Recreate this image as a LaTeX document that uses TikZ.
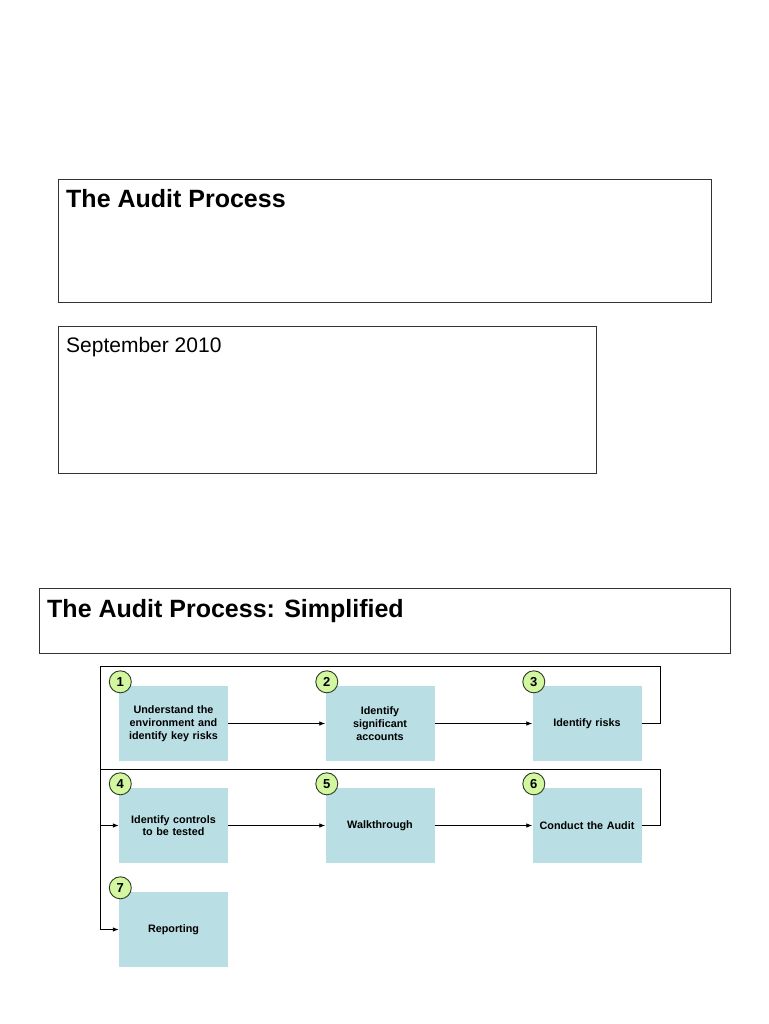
\documentclass[tikz,border=0pt]{standalone}
\usepackage{fontspec}
\setmainfont{Liberation Sans}
\usetikzlibrary{arrows.meta}
\definecolor{boxfill}{HTML}{B9DEE3}
\definecolor{numfill}{HTML}{D2F7A0}
\definecolor{numline}{HTML}{2E3A1E}
\definecolor{frameline}{HTML}{333333}
\begin{document}
\begin{tikzpicture}[x=1pt,y=-1pt,
  frame/.style={draw=frameline,line width=0.9pt},
  titletext/.style={anchor=base west,inner sep=0pt,font=\fontsize{25}{30}\selectfont\bfseries},
  datetext/.style={anchor=base west,inner sep=0pt,font=\fontsize{21}{25}\selectfont},
  stepbox/.style={fill=boxfill,minimum width=109pt,minimum height=75pt,inner sep=0pt,align=center,text width=104pt,font=\fontsize{10.8}{12.7}\selectfont\bfseries},
  num/.style={circle,draw=numline,line width=0.9pt,fill=numfill,minimum size=22pt,inner sep=0pt,font=\fontsize{13}{13}\selectfont\bfseries},
  arr/.style={draw=black,line width=0.8pt,-{Latex[length=6pt,width=4.5pt]}},
  ln/.style={draw=black,line width=0.8pt}]
\useasboundingbox (0,0) rectangle (768,1024);
\fill[white] (0,0) rectangle (768,1024);

% title frames
\draw[frame] (58,179) rectangle (711,302);
\node[titletext] (t1) at (66,208) {The Audit Process};
\draw[frame] (58,326) rectangle (596,473);
\node[datetext] (d1) at (66,352) {September 2010};
\draw[frame] (39,588) rectangle (730,653);
\node[titletext] (t2) at (47,617) {The Audit Process: Simplified};

% steps
\node[stepbox] (s1) at (173.5,723.5) {Understand the\\environment and\\identify key risks};
\node[stepbox] (s2) at (380,723.5) {Identify\\significant\\accounts};
\node[stepbox] (s3) at (587,723.5) {Identify risks};
\node[stepbox] (s4) at (173.5,825.5) {Identify controls\\to be tested};
\node[stepbox] (s5) at (380,825.5) {Walkthrough};
\node[stepbox] (s6) at (587,825.5) {Conduct the Audit};
\node[stepbox] (s7) at (173.5,929.5) {Reporting};

\foreach \i in {1,...,7}{
  \node[num] (c\i) at ([shift={(1.5,-4)}]s\i.north west) {\i};
}

\coordinate (tr) at (660,666);
\coordinate (tl) at (100,666);
\coordinate (mr) at (660,769);
\coordinate (ml) at (100,769);

\draw[arr] (s1) -- (s2);
\draw[arr] (s2) -- (s3);
\draw[arr] (s4) -- (s5);
\draw[arr] (s5) -- (s6);
\draw[arr] (s3.east) -| (tr) -- (tl) |- (s4.west);
\draw[arr] (s6.east) -| (mr) -- (ml) |- (s7.west);
\end{tikzpicture}
\end{document}
